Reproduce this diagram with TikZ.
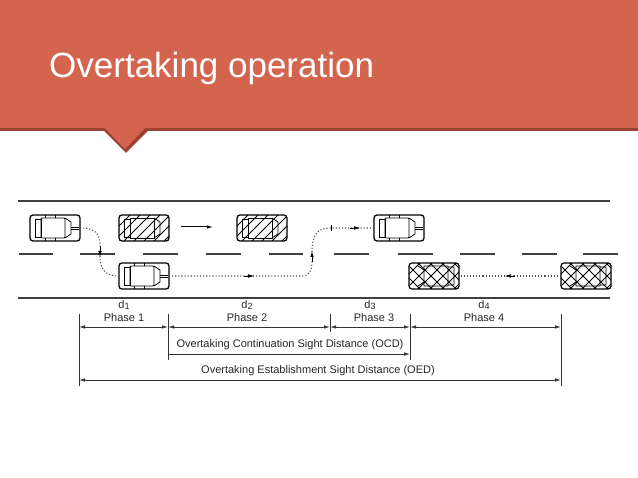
\documentclass[tikz,border=0pt]{standalone}
\usepackage{fontspec}
\setmainfont{Liberation Sans}
\usetikzlibrary{arrows.meta}
\definecolor{banner}{HTML}{D3654F}
\definecolor{bannerdark}{HTML}{9E4333}
\tikzset{
  road/.style={line width=1.3pt, draw=black!75},
  dim/.style={line width=0.8pt, draw=black!80},
  tip/.style={-{Latex[length=6pt,width=3.5pt]}},
  dimarr/.style={dim, {Latex[length=6pt,width=3.5pt]}-{Latex[length=6pt,width=3.5pt]}},
  path dot/.style={dotted, line width=1.1pt, draw=black!70},
  lbl/.style={font=\fontsize{11}{12}\selectfont, text=black!85, inner sep=0pt},
  carline/.style={line width=1.3pt},
  carthin/.style={line width=0.8pt},
  car/.pic={
    \draw[carline, rounded corners=3pt, fill=white] (-25,-13) rectangle (25,13);
    \draw[carthin] (-20,-9) rectangle (-14,9);
    \draw[carthin, rounded corners=1pt] (-14,-10) rectangle (10,10);
    \draw[carthin] (10,-10) -- (16,-6) -- (16,6) -- (10,10);
    \draw[carthin] (16,-1) -- (24,-1) (16,1) -- (24,1);
    \draw[carthin] (-10,-13) -- (-10,-10) (0,-13) -- (0,-10) (-10,13)--(-10,10) (0,13)--(0,10);
  },
  hcar/.pic={
    \begin{scope}
    \clip[rounded corners=3pt] (-25,-13) rectangle (25,13);
    \foreach \k in {-40,-30,...,30} \draw[carthin] (\k,13) -- (\k+26,-13);
    \end{scope}
    \draw[carline, rounded corners=3pt] (-25,-13) rectangle (25,13);
    \draw[carthin] (-20,-9) rectangle (-14,9) (-14,-10) rectangle (10,10);
    \draw[carthin] (10,-10) -- (16,-6) -- (16,6) -- (10,10);
  },
  xcar/.pic={
    \begin{scope}
    \clip[rounded corners=3pt] (-25,-13) rectangle (25,13);
    \foreach \k in {-40,-28,...,32} {\draw[carthin] (\k,13) -- (\k+26,-13); \draw[carthin] (\k,-13) -- (\k+26,13);}
    \end{scope}
    \draw[carline, rounded corners=3pt] (-25,-13) rectangle (25,13);
    \draw[carthin] (-16,-10) -- (-10,-6) -- (-10,6) -- (-16,10) (-10,-10) rectangle (14,10) (14,-9) rectangle (20,9);
  }
}
\newcommand{\dsub}[1]{d{\fontsize{9}{9}\selectfont\raisebox{-0.25ex}{#1}}}
\begin{document}
\begin{tikzpicture}[x=1pt,y=-1pt]
\useasboundingbox (0,0) rectangle (638,478);
% banner
\fill[bannerdark] (0,0) rectangle (638,131);
\fill[bannerdark] (104,131) -- (148,131) -- (126,153) -- cycle;
\fill[banner] (0,0) rectangle (638,128);
\fill[banner] (104,127) -- (146,127) -- (125,149) -- cycle;
\node[anchor=west, text=white, font=\fontsize{35}{38}\selectfont, inner sep=0pt] (title) at (49,68) {Overtaking operation};
% road
\draw[road] (18,201) -- (610,201);
\draw[road] (18,298) -- (610,298);
\foreach \a/\b in {19/53,80/115,143/178,206/241,269/303,334/369,398/433,460/495,522/557,583/618}
  \draw[road] (\a,254) -- (\b,254);
% cars
\pic at (55,228) {car};
\pic at (144,228) {hcar};
\pic at (262,228) {hcar};
\pic at (144,276) {car};
\pic at (399,228) {car};
\pic at (434,276) {xcar};
\pic at (586,276) {xcar};
\coordinate (c1) at (80,228);
\coordinate (c4l) at (119,276);
\coordinate (c4r) at (169,276);
\coordinate (c5) at (374,228);
\coordinate (x1) at (459,276);
\coordinate (x2) at (561,276);
\draw[tip, line width=1pt] (181,227) -- (213,227);
% dotted path
\draw[path dot] (c1) .. controls (96,228) and (100,234) .. (100,246);
\draw[tip, line width=0.8pt] (100,246) -- (100,257);
\draw[path dot] (100,256) .. controls (100,272) and (108,276) .. (c4l);
\draw[path dot] (c4r) -- (302,276) .. controls (310,276) and (312,270) .. (312,260);
\draw[tip] (244,276) -- (254,276);
\draw[tip, line width=0.8pt] (312,262) -- (312,251);
\draw[path dot] (312,252) .. controls (312,234) and (318,228) .. (330,228) -- (c5);
\draw[tip] (350,228) -- (360,228);
\draw[line width=0.8pt] (331,225) -- (331,231);
\draw[path dot] (x2) -- (x1);
\draw[tip] (515,276) -- (505,276);
% dimensions
\draw[dim] (79,314) -- (79,386);
\draw[dim] (168,314) -- (168,360);
\draw[dim] (330,314) -- (330,332);
\draw[dim] (410,314) -- (410,360);
\draw[dim] (561,314) -- (561,386);
\draw[dimarr] (79,327) -- (168,327);
\draw[dimarr] (168,327) -- (330,327);
\draw[dimarr] (330,327) -- (410,327);
\draw[dimarr] (410,327) -- (561,327);
\draw[dim, tip] (168,354) -- (410,354);
\draw[dimarr] (79,380) -- (561,380);
\node[lbl] (d1) at (124,305) {\dsub{1}};
\node[lbl] (p1) at (124,318) {Phase 1};
\node[lbl] (d2) at (247,305) {\dsub{2}};
\node[lbl] (p2) at (247,318) {Phase 2};
\node[lbl] (d3) at (370,305) {\dsub{3}};
\node[lbl] (p3) at (374,318) {Phase 3};
\node[lbl] (d4) at (484,305) {\dsub{4}};
\node[lbl] (p4) at (484,318) {Phase 4};
\node[lbl] (ocd) at (290,345) {Overtaking Continuation Sight Distance (OCD)};
\node[lbl] (oed) at (318,371) {Overtaking Establishment Sight Distance (OED)};
\end{tikzpicture}
\end{document}
